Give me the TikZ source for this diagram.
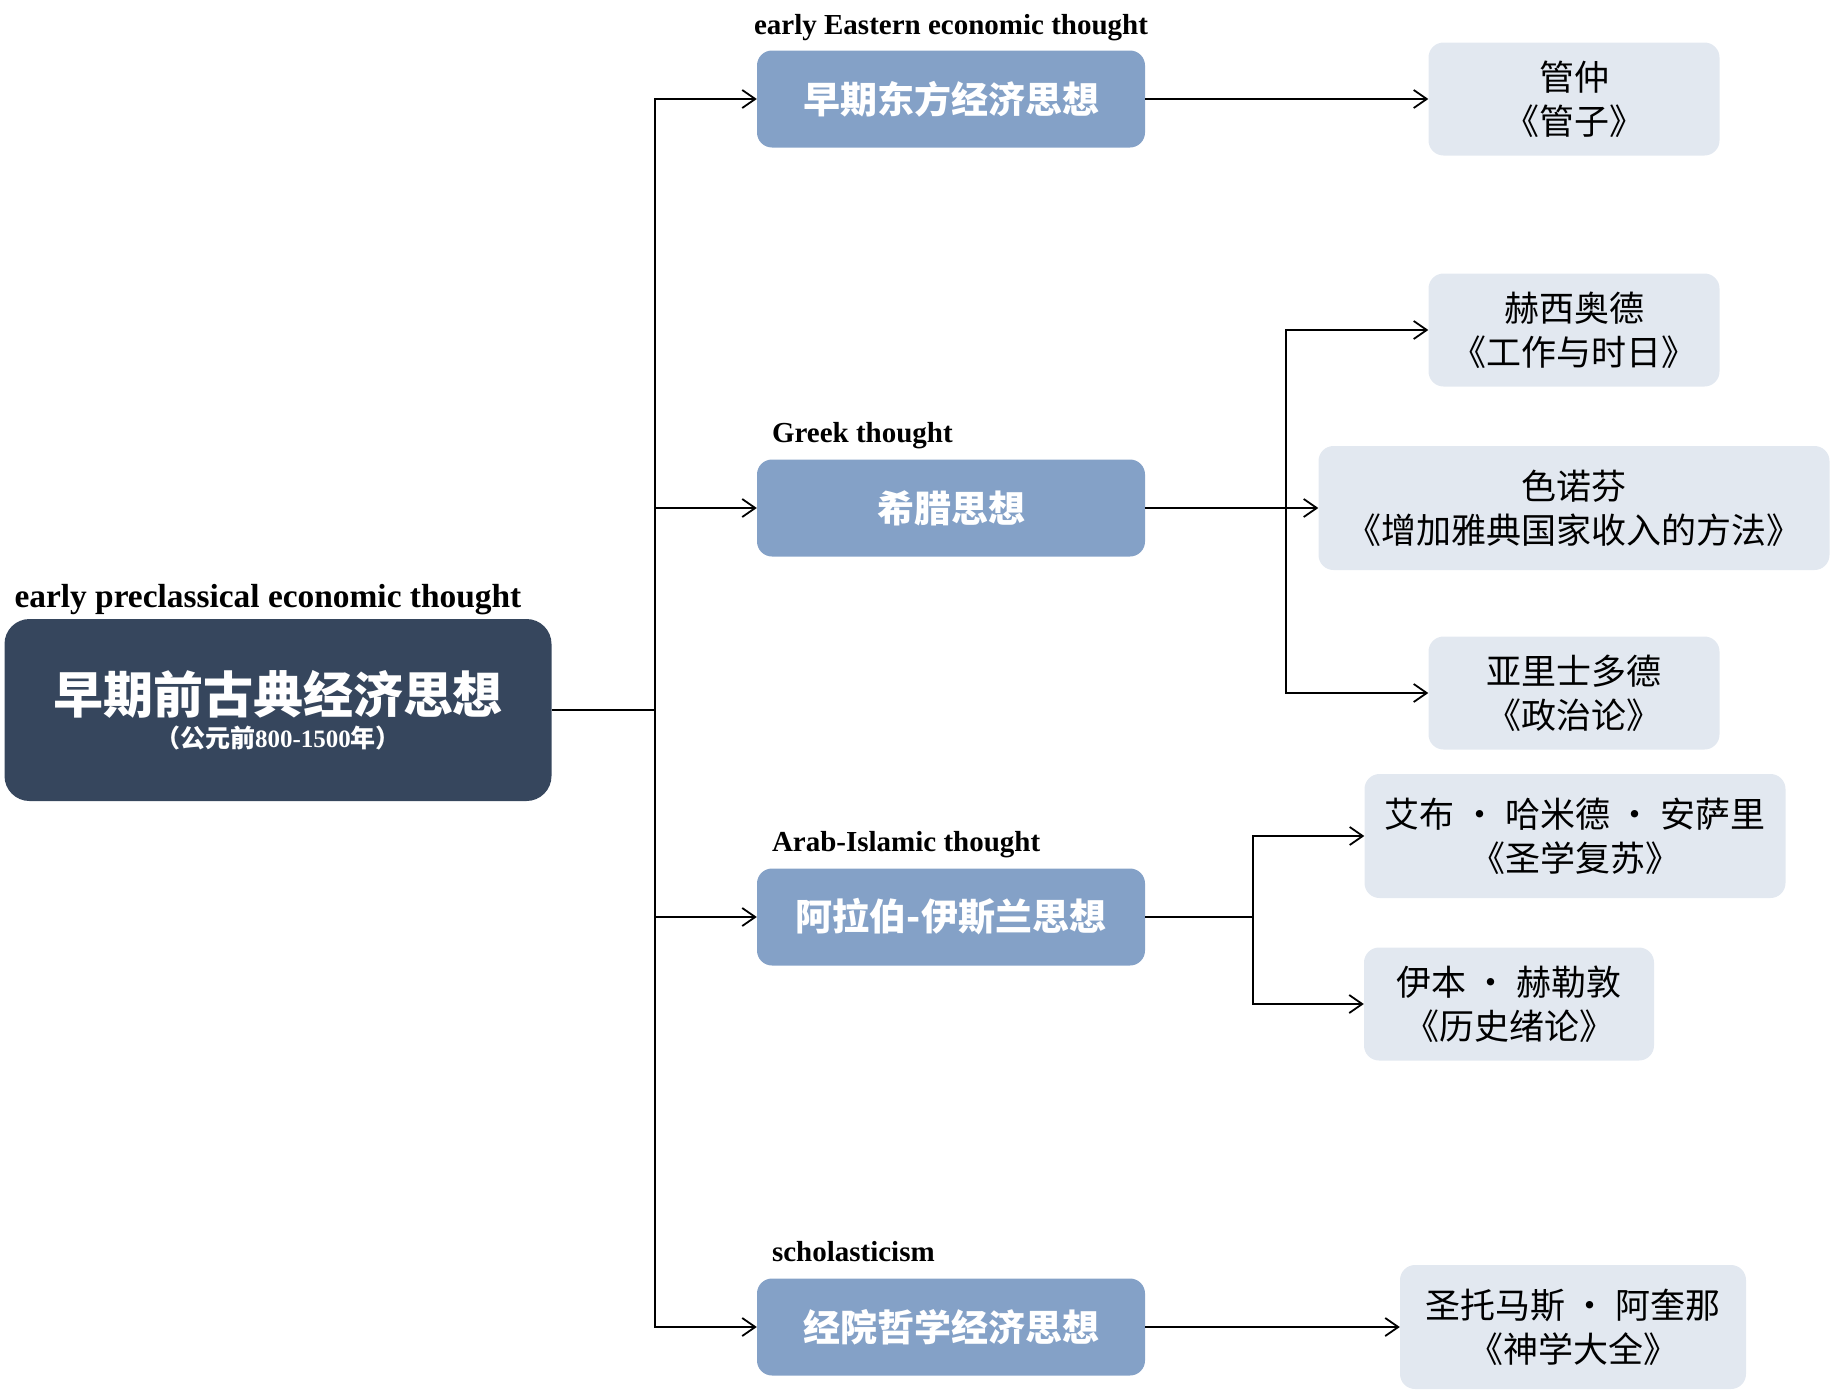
\documentclass[tikz,border=0pt]{standalone}
\usepackage{fontspec}
\setmainfont{Liberation Serif}
\newfontfamily\cjk{Noto Sans CJK SC}
\usetikzlibrary{arrows.meta}

\definecolor{rootblue}{HTML}{36465D}
\definecolor{topicblue}{HTML}{84A1C7}
\definecolor{leafgray}{HTML}{E2E8F0}

\tikzset{
  rootbox/.style={fill=rootblue, rounded corners=25pt, minimum width=547pt, minimum height=182pt, text=white, align=center, inner sep=0pt, font=\bfseries\fontsize{50}{34}\selectfont},
  topicbox/.style={fill=topicblue, rounded corners=15pt, minimum width=388pt, minimum height=97pt, text=white, font=\cjk\bfseries\fontsize{37}{44}\selectfont, inner sep=0pt},
  leafbox/.style={fill=leafgray, rounded corners=15pt, minimum height=113pt, align=center, font=\cjk\fontsize{35}{44}\selectfont, inner sep=0pt},
  tag/.style={font=\bfseries\fontsize{29}{34}\selectfont, inner sep=0pt},
  wire/.style={line width=1.8pt},
  conn/.style={line width=1.8pt, -{Straight Barb[length=13pt,width=18pt]}},
}

\begin{document}
\begin{tikzpicture}[x=1pt,y=1pt]
    \useasboundingbox (0,0) rectangle (1832,-1392);

    % Root
    \node[rootbox] (root) at (278,-710) {{\cjk 早期前古典经济思想}\\
      {\fontsize{25}{34}\selectfont{\cjk （公元前}800-1500{\cjk 年）}}};
    \node[tag, font=\bfseries\fontsize{33.4}{38}\selectfont, anchor=base west] (rootlabel) at ([xshift=10pt,yshift=11pt]root.north west) {early preclassical economic thought};

    % Topics
    \node[topicbox] (east) at (951,-99) {早期东方经济思想};
    \node[topicbox] (greek) at (951,-508) {希腊思想};
    \node[topicbox] (arab) at (951,-917) {阿拉伯-伊斯兰思想};
    \node[topicbox] (schol) at (951,-1327) {经院哲学经济思想};

    % Topic labels
    \node[tag, anchor=base] (eastlabel) at ([yshift=16pt]east.north) {early Eastern economic thought};
    \node[tag, anchor=base west] (greeklabel) at ([xshift=15pt,yshift=17pt]greek.north west) {Greek thought};
    \node[tag, anchor=base west] (arablabel) at ([xshift=15pt,yshift=17pt]arab.north west) {Arab-Islamic thought};
    \node[tag, anchor=base west] (schollabel) at ([xshift=15pt,yshift=17pt]schol.north west) {scholasticism};

    % Leaves
    \node[leafbox, minimum width=291pt] (guanzhong) at (1574,-99) {管仲\\《管子》};
    \node[leafbox, minimum width=291pt] (hesiod) at (1574,-330) {赫西奥德\\《工作与时日》};
    \node[leafbox, minimum width=511pt, minimum height=124pt] (xenophon) at (1574,-508) {色诺芬\\《增加雅典国家收入的方法》};
    \node[leafbox, minimum width=291pt] (aristotle) at (1574,-693) {亚里士多德\\《政治论》};
    \node[leafbox, minimum width=421pt, minimum height=124pt] (abu) at (1575,-836) {艾布 · 哈米德 · 安萨里\\《圣学复苏》};
    \node[leafbox, minimum width=290pt] (ibn) at (1509,-1004) {伊本 · 赫勒敦\\《历史绪论》};
    \node[leafbox, minimum width=346pt, minimum height=124pt] (thomas) at (1573,-1327) {圣托马斯 · 阿奎那\\《神学大全》};

    % Root to topics
    \coordinate (trunk) at (655,-710);
    \draw[wire] (root.east) -- (trunk);
    \foreach \t in {east,greek,arab,schol} \draw[conn] (trunk) |- (\t.west);

    % Topics to leaves
    \draw[conn] (east.east) -- (guanzhong.west);
    \coordinate (greekfork) at (1286,-508);
    \draw[wire] (greek.east) -- (greekfork);
    \foreach \l in {hesiod,xenophon,aristotle} \draw[conn] (greekfork) |- (\l.west);
    \coordinate (arabfork) at (1253,-917);
    \draw[wire] (arab.east) -- (arabfork);
    \foreach \l in {abu,ibn} \draw[conn] (arabfork) |- (\l.west);
    \draw[conn] (schol.east) -- (thomas.west);
\end{tikzpicture}
\end{document}
